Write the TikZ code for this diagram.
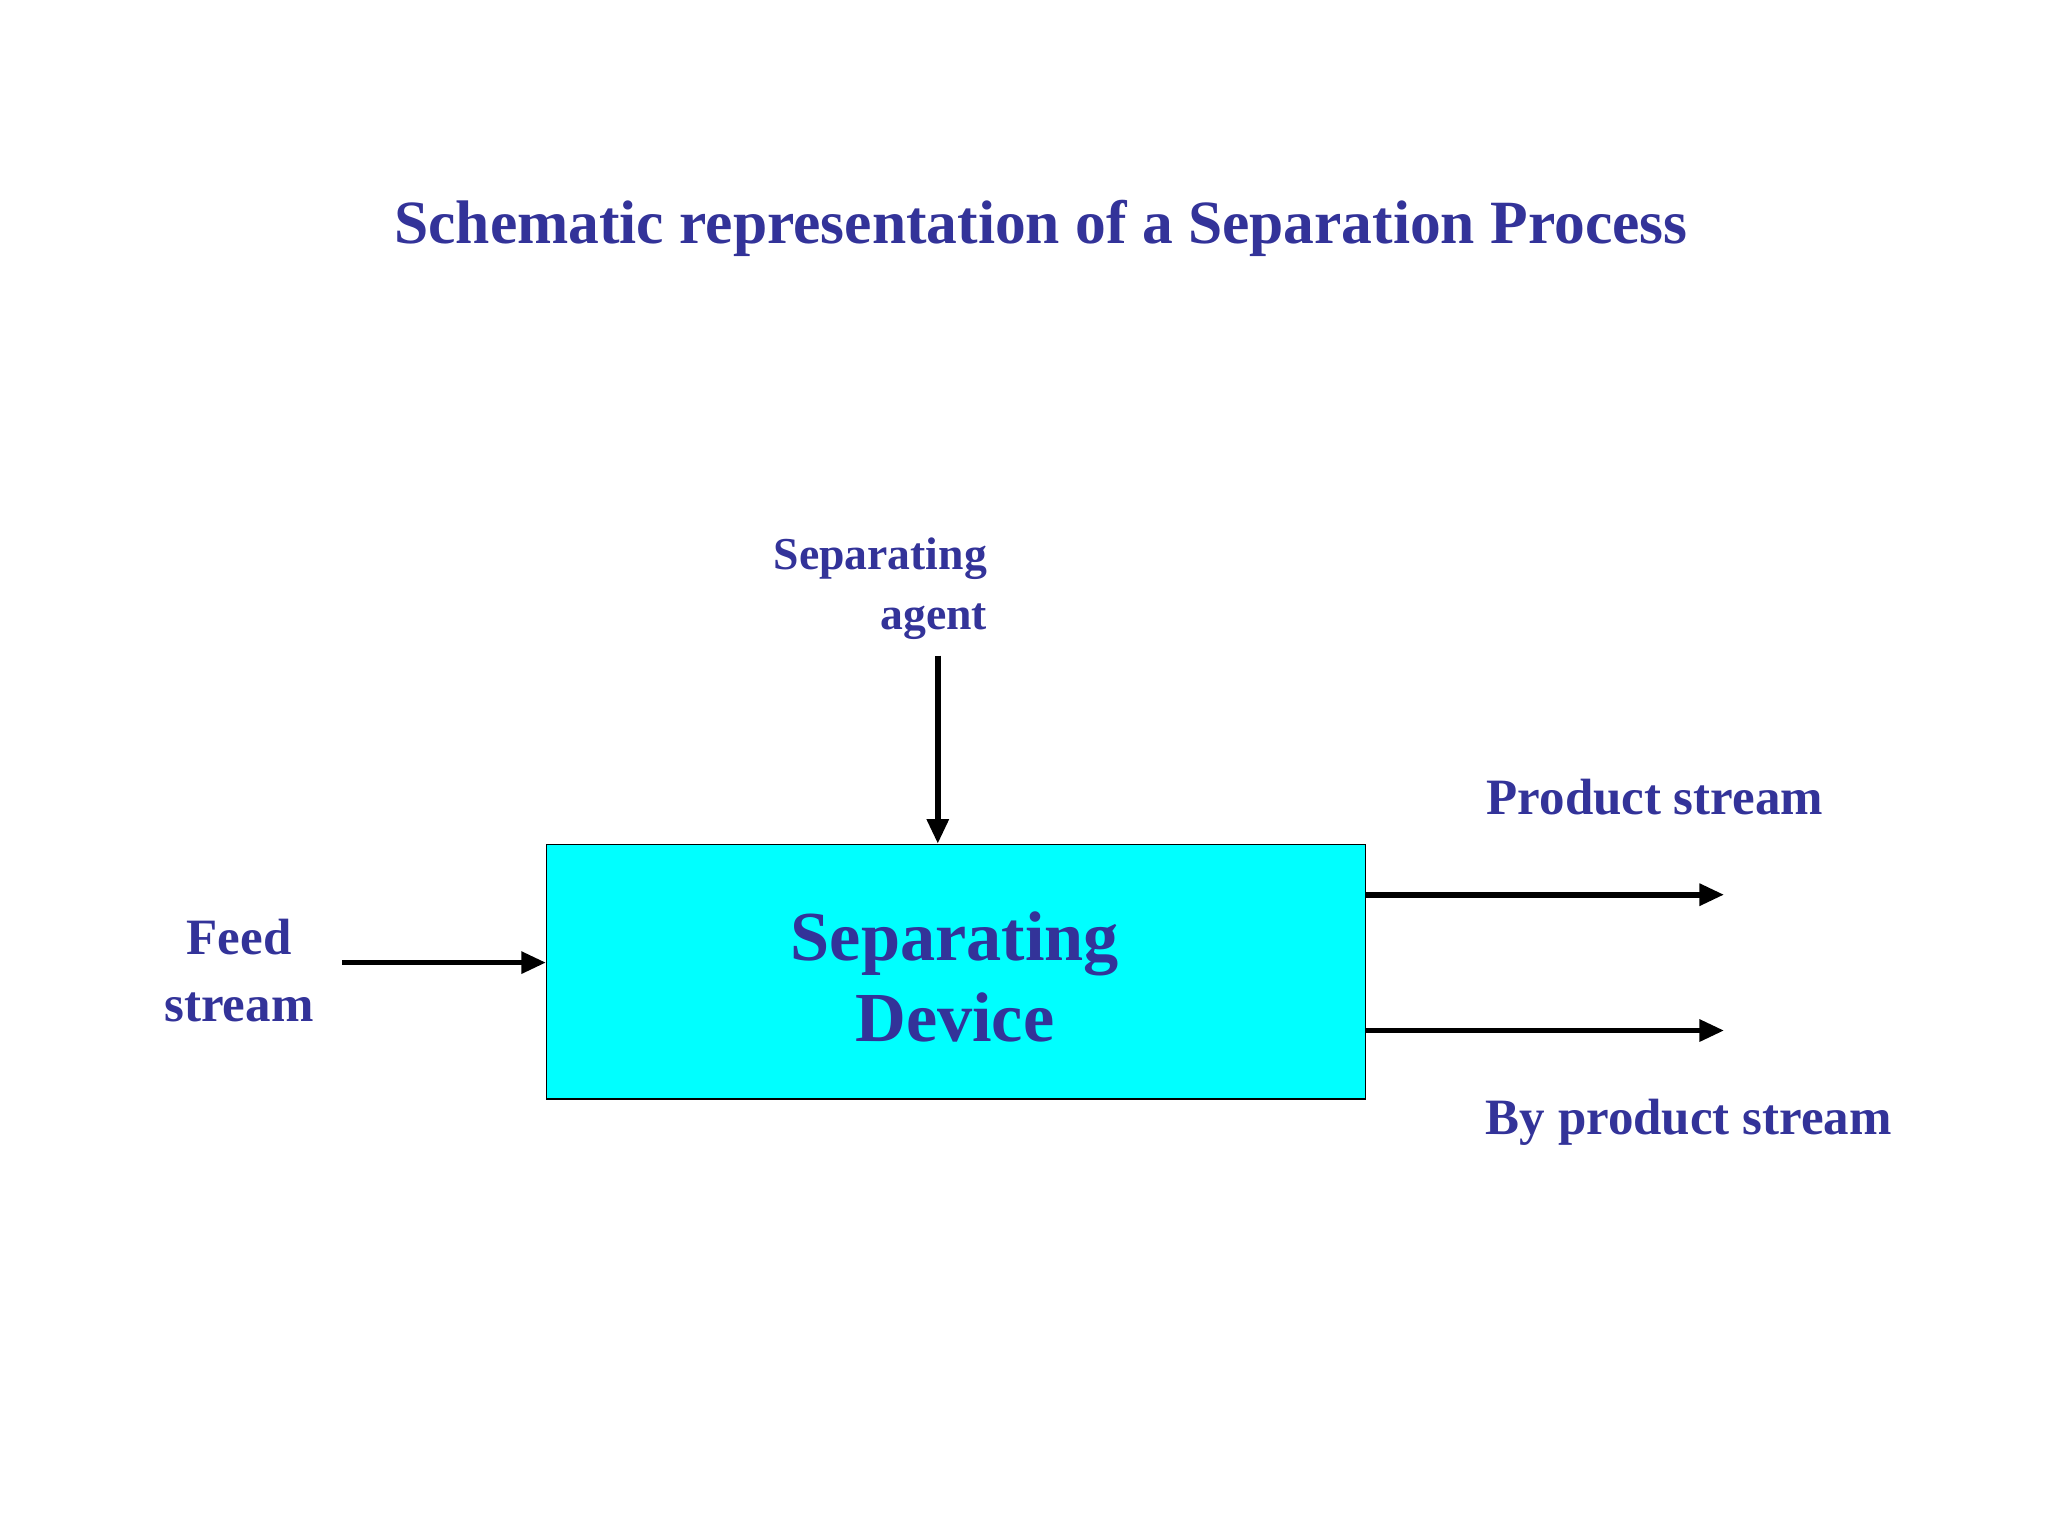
\documentclass[tikz,border=0pt]{standalone}
\usepackage{fontspec}
\setmainfont{Liberation Serif}
\usetikzlibrary{arrows.meta}
\definecolor{tblue}{HTML}{333399}
\definecolor{cyanbox}{HTML}{00FFFF}
\begin{document}
\begin{tikzpicture}[x=0.01306cm,y=-0.01306cm,
  lbl/.style={text=tblue,font=\bfseries,align=center,inner sep=0pt},
  arr/.style={line width=1.6pt,-{Triangle[length=7pt,width=6pt]}}]
\useasboundingbox (0,0) rectangle (1568,1176);
\node[lbl,font=\bfseries\fontsize{17.5}{21}\selectfont] (title) at (797,175) {Schematic representation of a Separation Process};
\node[draw=black,fill=cyanbox,minimum width=627*0.01306cm,minimum height=195*0.01306cm,anchor=north west,inner sep=0pt] (box) at (418,646) {};
\node[lbl,font=\bfseries\fontsize{20}{24}\selectfont,align=center] (bt) at (731,748) {Separating\\[-1pt]Device};
\node[lbl,font=\bfseries\fontsize{14.5}{19}\selectfont] (feed) at (183,743) {Feed\\stream};
\node[lbl,font=\bfseries\fontsize{13}{17}\selectfont,align=right] (agent) at (674,451) {Separating\\agent};
\node[lbl,font=\bfseries\fontsize{14.5}{18}\selectfont] (prod) at (1267,610) {Product stream};
\node[lbl,font=\bfseries\fontsize{14.5}{18}\selectfont] (byp) at (1293,859) {By product stream};
\coordinate (fs) at (262,737);
\coordinate (as) at (718,502);
\coordinate (pe) at (1320,685);
\coordinate (be) at (1320,789);
\draw[arr] (fs) -- (box.west |- fs);
\draw[arr] (as) -- (box.north -| as);
\draw[arr] (box.east |- pe) -- (pe);
\draw[arr] (box.east |- be) -- (be);
\end{tikzpicture}
\end{document}
